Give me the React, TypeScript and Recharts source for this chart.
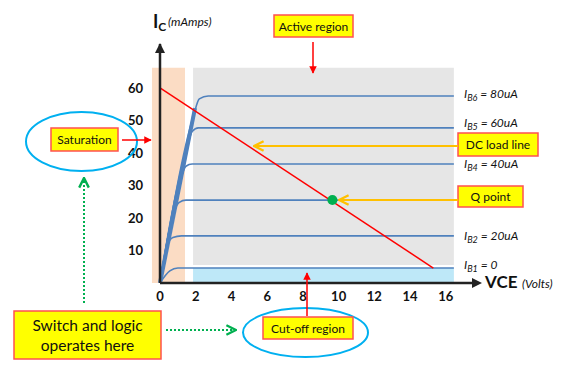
import { LineChart, Line, XAxis, YAxis, ReferenceArea, ReferenceDot } from "recharts";

// axis ticks
const vceTicks = [0, 2, 4, 6, 8, 10, 12, 14, 16];
const icTicks = [10, 20, 30, 40, 50, 60];

// output characteristics, VCE (V) against IC (mA)
const ib1Vce = [0, 0.55, 1.0, 16.45];
const ib1Ic = [0, 3.7, 4.6, 4.6];
const ib2Vce = [0, 0.44, 0.72, 1.2, 16.45];
const ib2Ic = [0, 12, 14, 14.5, 14.5];
const ib3Vce = [0, 0.82, 1.08, 1.45, 16.45];
const ib3Ic = [0, 22.5, 24.8, 25.5, 25.5];
const ib4Vce = [0, 1.2, 1.45, 1.8, 16.45];
const ib4Ic = [0, 33, 35.9, 36.6, 36.6];
const ib5Vce = [0, 1.57, 1.8, 2.15, 16.45];
const ib5Ic = [0, 43, 46.6, 47.7, 47.7];
const ib6Vce = [0, 1.88, 2.2, 2.7, 16.45];
const ib6Ic = [0, 51.5, 56.6, 57.5, 57.5];

// saturation edge, DC load line, Q point
const satVce = [0, 1.96];
const satIc = [0, 53.8];
const loadVce = [0, 15.3];
const loadIc = [60, 4.6];
const qVce = 9.65;
const qIc = 25.5;

// regions (VCE from / to, IC from / to)
const satRegion = [-0.45, 1.4, 0, 66.2];
const activeRegion = [1.85, 16.45, 5.5, 66.2];
const cutoffRegion = [1.85, 16.45, 0, 4.6];

// base current labels
const ibNames = ["B6", "B5", "B4", "B2", "B1"];
const ibValues = ["80uA", "60uA", "40uA", "20uA", "0"];
const ibLevels = [57.5, 47.7, 36.6, 14.5, 4.6];

const pts = (v: number[], i: number[]) => v.map((x, k) => ({ vce: x, ic: i[k] }));

const curves = [
  pts(ib1Vce, ib1Ic),
  pts(ib2Vce, ib2Ic),
  pts(ib3Vce, ib3Ic),
  pts(ib4Vce, ib4Ic),
  pts(ib5Vce, ib5Ic),
  pts(ib6Vce, ib6Ic),
];

const FONT = "Lato, 'Open Sans', sans-serif";
const W = 561;
const H = 367;
// plot area, kept in sync with the chart margins below
const PL = 160;
const PT = 44;
const PW = 318;
const PH = 239;
const py = (ic: number) => PT + PH - (ic / 73.5) * PH;
// label nudges so text sits where the original put it
const labelShift = [2, -1, 4, 4, 1];

function Callout({ x, y, w, h, lines, size = 12 }: { x: number; y: number; w: number; h: number; lines: string[]; size?: number }) {
  const lh = size * 1.3;
  const top = y + h / 2 - ((lines.length - 1) * lh) / 2;
  return (
    <g>
      <rect x={x} y={y} width={w} height={h} fill="#FFFF00" stroke="#FF5050" strokeWidth={1.5} />
      {lines.map((t, k) => (
        <text key={k} x={x + w / 2} y={top + k * lh} textAnchor="middle" dominantBaseline="central" fontSize={size} fill="#111">
          {t}
        </text>
      ))}
    </g>
  );
}

function Overlay() {
  return (
    <svg width={W} height={H} style={{ position: "absolute", left: 0, top: 0, pointerEvents: "none", fontFamily: FONT }}>
      <defs>
        <marker id="red" viewBox="0 0 10 10" refX="9" refY="5" markerWidth="5" markerHeight="5" orient="auto">
          <path d="M0,0 L10,5 L0,10 z" fill="#FF0000" />
        </marker>
        <marker id="orange" viewBox="0 0 10 10" refX="9" refY="5" markerWidth="6" markerHeight="6" orient="auto">
          <path d="M1,1 L9,5 L1,9" fill="none" stroke="#FFC000" strokeWidth="2" />
        </marker>
        <marker id="green" viewBox="0 0 10 10" refX="9" refY="5" markerWidth="6" markerHeight="6" orient="auto">
          <path d="M1,1 L9,5 L1,9" fill="none" stroke="#00B050" strokeWidth="2" />
        </marker>
      </defs>

      {/* axis arrow heads */}
      <path d={`M${PL - 5},${PT + 9} L${PL},${PT - 1} L${PL + 5},${PT + 9} z`} fill="#222" />
      <path d={`M${PL + PW - 6},${PT + PH - 5} L${PL + PW + 4},${PT + PH} L${PL + PW - 6},${PT + PH + 5} z`} fill="#222" />

      {/* axis titles */}
      <text x={153} y={28} fontSize={18} fontWeight="bold" fill="#111">
        I<tspan fontSize={12} dy={3}>C</tspan>
      </text>
      <text x={168} y={26} fontSize={12} fontStyle="italic" fill="#111">(mAmps)</text>
      <text x={485} y={288} fontSize={17} fontWeight="bold" fill="#111">VCE</text>
      <text x={522} y={288} fontSize={12} fontStyle="italic" fill="#111">(Volts)</text>

      {/* base current labels */}
      {ibNames.map((n, k) => (
        <text key={n} x={464} y={py(ibLevels[k]) + labelShift[k]} fontSize={12} fontStyle="italic" fill="#111">
          I<tspan fontSize={9} dy={3}>{n}</tspan>
          <tspan dy={-3}>{` = ${ibValues[k]}`}</tspan>
        </text>
      ))}

      {/* active region */}
      <Callout x={274} y={15} w={79} h={22} lines={["Active region"]} />
      <line x1={313} y1={42} x2={313} y2={73} stroke="#FF0000" strokeWidth={1.5} markerEnd="url(#red)" />

      {/* DC load line + Q point callouts */}
      <Callout x={458} y={133} w={80} h={23} lines={["DC load line"]} />
      <line x1={458} y1={146} x2={254} y2={146} stroke="#FFC000" strokeWidth={2} markerEnd="url(#orange)" />
      <Callout x={458} y={186} w={65} h={21} lines={["Q point"]} />
      <line x1={458} y1={200} x2={339} y2={200} stroke="#FFC000" strokeWidth={2} markerEnd="url(#orange)" />

      {/* saturation */}
      <ellipse cx={81.5} cy={141.5} rx={55.5} ry={29.5} fill="none" stroke="#00B0F0" strokeWidth={2} />
      <Callout x={51} y={128} w={67} h={23} lines={["Saturation"]} />
      <line x1={122} y1={140} x2={151} y2={140} stroke="#FF0000" strokeWidth={1.5} markerEnd="url(#red)" />

      {/* cut-off */}
      <ellipse cx={305.5} cy={332.5} rx={62.5} ry={24.5} fill="none" stroke="#00B0F0" strokeWidth={2} />
      <Callout x={263} y={317} w={90} h={22} lines={["Cut-off region"]} />
      <line x1={307} y1={316} x2={307} y2={273} stroke="#FF0000" strokeWidth={1.5} markerEnd="url(#red)" />

      {/* switch note */}
      <Callout x={14} y={311} w={147} h={48} lines={["Switch and logic", "operates here"]} size={15.5} />
      <line x1={84} y1={303} x2={84} y2={178} stroke="#00B050" strokeWidth={2} strokeDasharray="2 2" markerEnd="url(#green)" />
      <line x1={166} y1={330} x2={236} y2={330} stroke="#00B050" strokeWidth={2} strokeDasharray="2 2" markerEnd="url(#green)" />
    </svg>
  );
}

export default function App() {
  const tick = { fill: "#111", fontSize: 13, fontWeight: "bold", fontFamily: FONT };
  return (
    <div style={{ position: "absolute", left: 0, top: 0, width: W, height: H, background: "#fff", fontFamily: FONT }}>
      <LineChart
        width={W}
        height={H}
        margin={{ top: PT, right: W - PL - PW, bottom: H - PT - PH - 30, left: PL - 40 }}
      >
        <XAxis
          dataKey="vce"
          type="number"
          domain={[0, 17.8]}
          ticks={vceTicks}
          height={30}
          tick={tick}
          tickSize={0}
          tickMargin={9}
          axisLine={{ stroke: "#222", strokeWidth: 2.5 }}
          tickLine={false}
        />
        <YAxis
          type="number"
          domain={[0, 73.5]}
          ticks={icTicks}
          width={40}
          tick={tick}
          tickSize={0}
          tickMargin={17}
          axisLine={{ stroke: "#222", strokeWidth: 2.5 }}
          tickLine={false}
        />
        <ReferenceArea x1={satRegion[0]} x2={satRegion[1]} y1={satRegion[2]} y2={satRegion[3]} fill="#FBDCC4" fillOpacity={1} stroke="none" ifOverflow="visible" />
        <ReferenceArea x1={activeRegion[0]} x2={activeRegion[1]} y1={activeRegion[2]} y2={activeRegion[3]} fill="#E6E6E6" fillOpacity={1} stroke="none" ifOverflow="visible" />
        <ReferenceArea x1={cutoffRegion[0]} x2={cutoffRegion[1]} y1={cutoffRegion[2]} y2={cutoffRegion[3]} fill="#BEE8F8" fillOpacity={1} stroke="none" ifOverflow="visible" />
        {curves.map((c, k) => (
          <Line key={k} data={c} dataKey="ic" type="monotone" stroke="#4F81BD" strokeWidth={1.6} dot={false} isAnimationActive={false} />
        ))}
        <Line data={pts(satVce, satIc)} dataKey="ic" type="linear" stroke="#4F81BD" strokeWidth={4} dot={false} isAnimationActive={false} />
        <Line data={pts(loadVce, loadIc)} dataKey="ic" type="linear" stroke="#FF0000" strokeWidth={1.5} dot={false} isAnimationActive={false} />
        <ReferenceDot x={qVce} y={qIc} r={5} fill="#00B050" stroke="none" />
      </LineChart>
      <Overlay />
    </div>
  );
}
